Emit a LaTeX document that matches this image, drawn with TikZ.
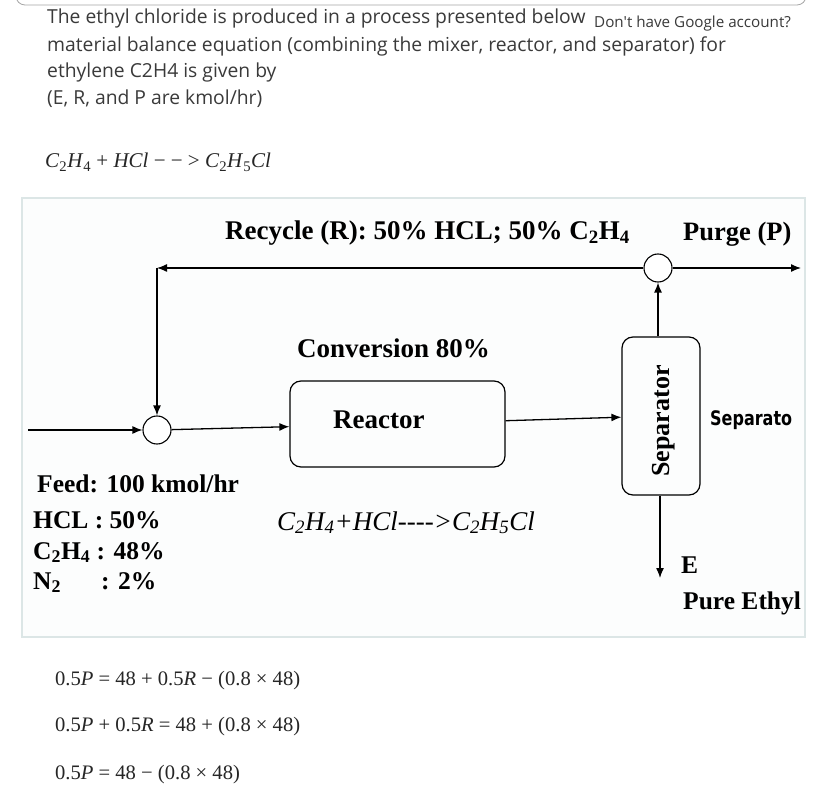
\documentclass[tikz,border=0pt]{standalone}
\usepackage{fontspec}
\setmainfont{Liberation Serif}
\newfontfamily\uisans{Open Sans}
\newfontfamily\sidesans[FakeStretch=0.8]{DejaVu Sans}
\usetikzlibrary{arrows.meta}
\definecolor{txtgray}{HTML}{3A3A3A}
\definecolor{boxline}{HTML}{DCE6E6}
\definecolor{boxfill}{HTML}{FCFDFD}
\begin{document}
\begin{tikzpicture}[x=1pt,y=-1pt,
  flow/.style={draw, line width=1.3pt, -{Latex[length=10pt,width=8pt]}},
  unit/.style={draw, line width=1.2pt, rounded corners=11pt},
  junction/.style={draw, line width=1.1pt, circle, minimum size=28pt, inner sep=0, fill=white},
  para/.style={font=\uisans\fontsize{19.3}{22}\selectfont, text=txtgray, inner sep=0, anchor=base west},
  blbl/.style={font=\bfseries\fontsize{27}{29}\selectfont, inner sep=0, anchor=base west},
  slbl/.style={font=\bfseries\fontsize{25.5}{27}\selectfont, inner sep=0, anchor=base west},
  eqn/.style={font=\fontsize{20.6}{22}\selectfont, text=black!85, inner sep=0, anchor=base west}]
\useasboundingbox (0,0) rectangle (820,802);
\fill[white] (0,0) rectangle (820,802);
% top overlay box edge
\draw[black!35, line width=0.8pt, rounded corners=9pt] (16,-20) -- (16,5) -- (806,5) -- (806,-20);
% paragraph
\node[para] (p1) at (47,24) {The ethyl chloride is produced in a process presented below};
\node[font=\uisans\fontsize{15.2}{17}\selectfont, text=txtgray, fill=white, inner xsep=3pt, inner ysep=4pt, anchor=base west] (google) at (591,28) {Don't have Google account?};
\node[para] (p2) at (47,52) {material balance equation (combining the mixer, reactor, and separator) for};
\node[para] (p3) at (47,78) {ethylene C2H4 is given by};
\node[para] (p4) at (47,105) {(E, R, and P are kmol/hr)};
% reaction
\node[font=\fontsize{21}{23}\selectfont, text=black!85, inner sep=0, anchor=base west] (rxn) at (45,168)
  {\textit{C}\textsubscript{2}\textit{H}\textsubscript{4} + \textit{HCl} − − > \textit{C}\textsubscript{2}\textit{H}\textsubscript{5}\textit{Cl}};
% diagram frame
\draw[boxline, fill=boxfill, line width=1.5pt] (22,198) rectangle (805,637);
% labels
\node[blbl] (rec) at (225,240) {Recycle (R): 50\% HCL; 50\% C\textsubscript{2}H\textsubscript{4}};
\node[font=\bfseries\fontsize{26.5}{28}\selectfont, inner sep=0, anchor=base west] (purge) at (683,241) {Purge (P)};
\node[blbl] (conv) at (297,358) {Conversion 80\%};
% units
\node[junction] (mix) at (157,430) {};
\node[junction] (split) at (658,268) {};
\node[unit, minimum width=215pt, minimum height=86pt, inner sep=0] (reactor) at (397.5,424) {};
\node[blbl] (reactlbl) at (333,429) {Reactor};
\node[unit, minimum width=78pt, minimum height=158pt, inner sep=0] (sep) at (661,416) {};
\node[font=\bfseries\fontsize{26}{28}\selectfont, rotate=90, inner sep=0] (seplbl) at (664,421) {Separator};
% streams
\coordinate (feedin) at (28,430);
\coordinate (corner) at (157,268);
\coordinate (purgeout) at (801,268);
\coordinate (prod) at (660,578);
\draw[flow] (feedin) -- (mix);
\draw[flow] (split) -- (corner);
\draw[flow] (corner) -- (mix);
\draw[flow] (mix) -- (reactor);
\draw[flow] (reactor) -- (sep);
\draw[flow] (sep.north -| split) -- (split);
\draw[flow] (split) -- (purgeout);
\draw[flow] (sep.south -| prod) -- (prod);
% side texts
\node[font=\sidesans\bfseries\fontsize{20}{22}\selectfont, inner sep=0, anchor=base west] (septxt) at (710,426) {Separato};
\node[slbl] (pure) at (683,609) {Pure Ethyl};
\node[slbl] (elbl) at (681,573) {E};
\node[slbl] (feed) at (37,492) {Feed: 100 kmol/hr};
\node[slbl] (hcl) at (33,528) {HCL : 50\%};
\node[slbl] (c2h4) at (33,559) {C\textsubscript{2}H\textsubscript{4} : 48\%};
\node[slbl] (n2) at (33,589) {N\textsubscript{2}\hspace{40pt}: 2\%};
\node[font=\itshape\fontsize{27}{29}\selectfont, inner sep=0, anchor=base west] (rxn2) at (277,530)
  {C\textsubscript{2}H\textsubscript{4}+HCl{-}{-}{-}{-}>C\textsubscript{2}H\textsubscript{5}Cl};
% equations
\node[eqn] (e1) at (55,685) {0.5\textit{P} = 48 + 0.5\textit{R} − (0.8 × 48)};
\node[eqn] (e2) at (55,731) {0.5\textit{P} + 0.5\textit{R} = 48 + (0.8 × 48)};
\node[eqn] (e3) at (55,779) {0.5\textit{P} = 48 − (0.8 × 48)};
\end{tikzpicture}
\end{document}
